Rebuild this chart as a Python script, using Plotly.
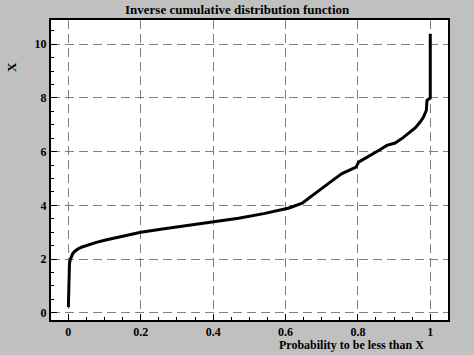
import plotly.graph_objects as go

prob = [0.0, 0.0005, 0.001, 0.003, 0.005, 0.008, 0.012, 0.018, 0.027, 0.038, 0.055,
        0.075, 0.10, 0.14, 0.20, 0.26, 0.33, 0.40, 0.47, 0.54, 0.58, 0.61, 0.646,
        0.675, 0.705, 0.73, 0.756, 0.784, 0.795, 0.802, 0.822, 0.843, 0.862, 0.880,
        0.903, 0.925, 0.949, 0.959, 0.972, 0.981, 0.989, 0.991, 0.996, 1.0, 1.0]
xval = [0.21, 0.9, 1.58, 1.82, 1.97, 2.10, 2.20, 2.29, 2.38, 2.45, 2.53,
        2.61, 2.70, 2.83, 3.00, 3.12, 3.25, 3.37, 3.52, 3.69, 3.80, 3.90, 4.08,
        4.38, 4.68, 4.93, 5.18, 5.36, 5.42, 5.61, 5.76, 5.92, 6.08, 6.23,
        6.32, 6.52, 6.79, 6.89, 7.10, 7.28, 7.53, 7.91, 7.96, 8.0, 10.39]

title_text = "Inverse cumulative distribution function"
xlabel = "Probability to be less than X"
ylabel = "X"
xticks = [0, 0.2, 0.4, 0.6, 0.8, 1]
xticklabels = ["0", "0.2", "0.4", "0.6", "0.8", "1"]
yticks = [0, 2, 4, 6, 8, 10]

font_family = "Liberation Serif"
fig = go.Figure()
fig.add_trace(go.Scatter(x=prob, y=xval, mode="lines",
                         line=dict(color="black", width=3), showlegend=False,
                         hoverinfo="skip"))

axis_common = dict(
    showline=True, linecolor="black", linewidth=2, mirror=True,
    ticks="inside", ticklen=6, tickcolor="black", tickwidth=1,
    showgrid=True, gridcolor="#808080", gridwidth=1, griddash="9px,5px",
    zeroline=False,
    tickfont=dict(family=font_family, size=12, color="black", weight="bold"),
)

fig.update_layout(
    width=474, height=355,
    margin=dict(l=51, r=26, t=20, b=35),
    paper_bgcolor="#c0c0c0", plot_bgcolor="white",
    xaxis=dict(range=[-0.048, 1.049], tickvals=xticks, ticktext=xticklabels,
               minor=dict(dtick=0.05, tick0=0, ticks="inside", ticklen=3,
                          tickcolor="black", showgrid=False),
               **axis_common),
    yaxis=dict(range=[-0.27, 10.9], tickvals=yticks,
               minor=dict(dtick=0.5, tick0=0, ticks="inside", ticklen=3,
                          tickcolor="black", showgrid=False),
               **axis_common),
    annotations=[
        dict(text=title_text, x=237, y=10, showarrow=False,
             font=dict(family=font_family, size=13, color="black", weight="bold")),
        dict(text=xlabel, x=351, y=345, showarrow=False,
             font=dict(family=font_family, size=12, color="black", weight="bold")),
        dict(text=ylabel, x=12, y=67, showarrow=False, textangle=-90,
             font=dict(family=font_family, size=13, color="black", weight="bold")),
    ],
)

# convert pixel positions of annotations to paper coords
pl, pr, pt, pb = 51, 474 - 26, 20, 355 - 35
W, H = pr - pl, pb - pt
anns = []
for a in fig.layout.annotations:
    a = a.to_plotly_json()
    a["xref"] = "paper"; a["yref"] = "paper"
    a["x"] = (a["x"] - pl) / W
    a["y"] = (pb - a["y"]) / H
    a["xanchor"] = "center"; a["yanchor"] = "middle"
    anns.append(a)
fig.update_layout(annotations=anns)

fig.write_html("out.html")
